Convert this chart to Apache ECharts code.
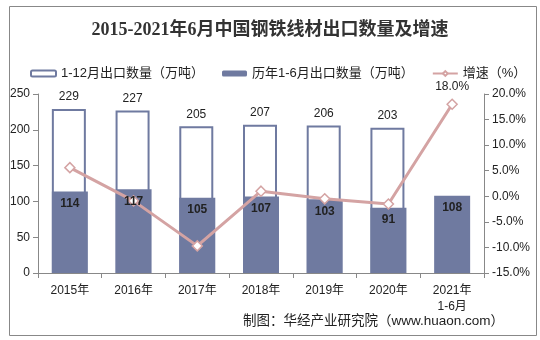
<!DOCTYPE html>
<html><head><meta charset="utf-8">
<script src="https://cdn.jsdelivr.net/npm/echarts@6/dist/echarts.min.js"></script>
<style>html,body{margin:0;padding:0;background:#fff}#c{width:540px;height:340px}</style>
</head><body><div id="c"></div>
<script>
const categories = ['2015年','2016年','2017年','2018年','2019年','2020年','2021年\n1-6月'];
const annualExport = [229, 227, 205, 207, 206, 203, null];
const h1Export = [114, 117, 105, 107, 103, 91, 108];
const growthRate = [5.6, -0.9, -9.7, 1.0, -0.5, -1.5, 18.0];
const leftTicks = {min: 0, max: 250, interval: 50};
const rightTicks = {min: -15, max: 20, interval: 5};

const barColor = '#6F7AA0';
const lineColor = '#D4A3A3';
const txt = '#222';
const sans = 'Arial, "Liberation Sans", "Noto Sans CJK SC", sans-serif';

const chart = echarts.init(document.getElementById('c'), null, {renderer: 'canvas'});
chart.setOption({
  animation: false,
  backgroundColor: '#fff',
  title: {
    text: '2015-2021年6月中国钢铁线材出口数量及增速',
    left: 'center', top: 16,
    textStyle: {fontFamily: '"Liberation Serif", "Noto Sans CJK SC", serif', fontWeight: 'bold', fontSize: 18, color: '#333'}
  },
  legend: {
    top: 62, left: 25, itemGap: 18, itemWidth: 25, itemHeight: 6,
    textStyle: {fontFamily: sans, fontSize: 13, color: txt},
    data: [
      {name: '1-12月出口数量（万吨）', itemStyle: {color: '#fff', borderColor: barColor, borderWidth: 2}},
      {name: '历年1-6月出口数量（万吨）'},
      {name: '增速（%）'}
    ]
  },
  grid: {left: 38, right: 56, top: 94, bottom: 67},
  xAxis: {
    type: 'category', data: categories,
    axisLine: {lineStyle: {color: '#888'}},
    axisTick: {show: true, lineStyle: {color: '#888'}},
    axisLabel: {fontFamily: sans, fontSize: 12, color: txt, margin: 10, lineHeight: 16}
  },
  yAxis: [{
    type: 'value', min: leftTicks.min, max: leftTicks.max, interval: leftTicks.interval,
    axisLine: {show: true, lineStyle: {color: '#888'}},
    axisTick: {show: true, lineStyle: {color: '#888'}},
    splitLine: {show: false},
    axisLabel: {fontFamily: sans, fontSize: 12, color: txt, margin: 8}
  }, {
    type: 'value', min: rightTicks.min, max: rightTicks.max, interval: rightTicks.interval,
    axisLine: {show: true, lineStyle: {color: '#888'}},
    axisTick: {show: true, lineStyle: {color: '#888'}},
    splitLine: {show: false},
    axisLabel: {fontFamily: sans, fontSize: 12, color: txt, margin: 8, formatter: v => v.toFixed(1) + '%'}
  }],
  series: [{
    name: '1-12月出口数量（万吨）', type: 'bar', barWidth: 34, z: 2,
    data: annualExport,
    itemStyle: {color: '#fff', borderColor: barColor, borderWidth: 2},
    label: {show: true, position: 'top', distance: 6, fontFamily: sans, fontSize: 12, color: txt}
  }, {
    name: '历年1-6月出口数量（万吨）', type: 'bar', barWidth: 36, barGap: '-100%', z: 3,
    data: h1Export,
    itemStyle: {color: barColor}
  }, {
    name: '增速（%）', type: 'line', yAxisIndex: 1, z: 5,
    data: growthRate,
    symbol: 'diamond', symbolSize: 10,
    lineStyle: {color: lineColor, width: 3},
    itemStyle: {color: '#fff', borderColor: lineColor, borderWidth: 1.5},
    label: {
      show: true, position: 'top', distance: 6, fontFamily: sans, fontSize: 12, color: txt,
      formatter: p => p.dataIndex === growthRate.length - 1 ? p.value.toFixed(1) + '%' : ''
    }
  }, {
    name: 'h1-labels', type: 'bar', barWidth: 36, barGap: '-100%', z: 10,
    data: h1Export, silent: true,
    itemStyle: {color: 'rgba(0,0,0,0)'},
    label: {show: true, position: 'insideTop', distance: 6, fontFamily: sans, fontSize: 12, fontWeight: 'bold', color: txt}
  }],
  graphic: [{
    type: 'rect', left: 7, top: 4, shape: {width: 527, height: 329},
    style: {fill: 'none', stroke: '#888', lineWidth: 1}, silent: true, z: -1
  }, {
    type: 'text', right: 36, top: 315,
    style: {text: '制图：华经产业研究院（www.huaon.com）', fontFamily: sans, fontSize: 13.5, fill: '#222'}
  }]
});
</script></body></html>
